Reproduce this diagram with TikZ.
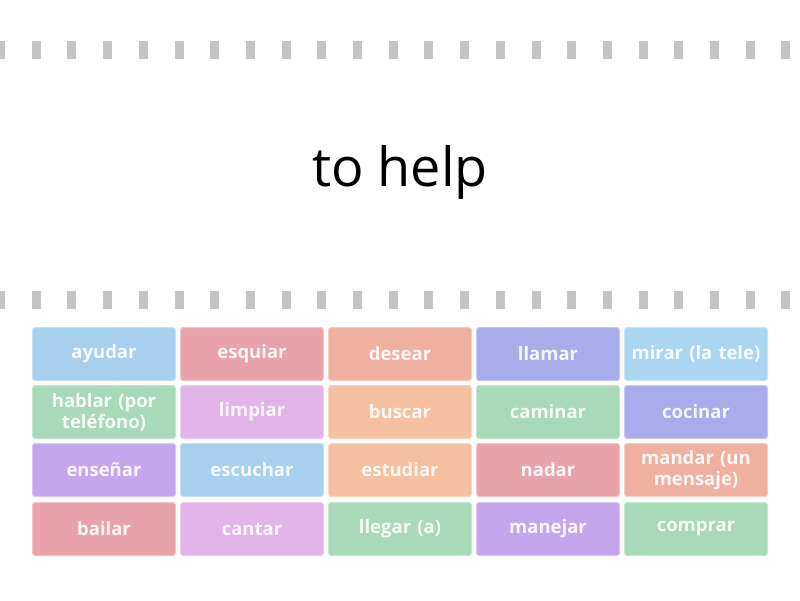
\documentclass[tikz,border=0pt]{standalone}
\usepackage{fontspec}
\setmainfont{Open Sans}
\definecolor{cblue}{HTML}{A6D0EE}
\definecolor{cred}{HTML}{E8A3AA}
\definecolor{csalmon}{HTML}{F0B0A0}
\definecolor{cperi}{HTML}{A8ACEA}
\definecolor{clblue}{HTML}{AAD6F2}
\definecolor{cgreen}{HTML}{A8DABA}
\definecolor{cpink}{HTML}{E2B4EA}
\definecolor{cpeach}{HTML}{F5C0A0}
\definecolor{cpurple}{HTML}{C3A6EC}
\definecolor{cdash}{HTML}{C4C4C4}
\begin{document}
\begin{tikzpicture}[x=1pt,y=-1pt,
  tile/.style={rounded corners=3pt,minimum width=144pt,minimum height=54pt,inner sep=0pt,
    draw=white,draw opacity=0.35,line width=2pt,
    text=white,text opacity=0.9,font=\bfseries\fontsize{18.5}{21}\selectfont,align=center,text width=144pt},
  dashbar/.style={fill=cdash}]
\useasboundingbox (0,0) rectangle (800,600);
\foreach \y in {50,300}{
  \foreach \i in {0,...,22}{
    \fill[dashbar] ({\i*35.7-4},\y-9) rectangle ({\i*35.7+5},\y+9);
  }
}
\node[font=\fontsize{54}{58}\selectfont] (title) at (400,172) {to help};
\def\tl#1#2#3#4#5{\node[tile,fill=#3] (#1) at ({104+148*#2},#4) {#5};}
\tl{a1}{0}{cblue}{354}{ayudar}
\tl{a2}{1}{cred}{354}{esquiar}
\tl{a3}{2}{csalmon}{354}{desear}
\tl{a4}{3}{cperi}{354}{llamar}
\tl{a5}{4}{clblue}{354}{mirar (la tele)}
\tl{b1}{0}{cgreen}{412}{hablar (por\\teléfono)}
\tl{b2}{1}{cpink}{412}{limpiar}
\tl{b3}{2}{cpeach}{412}{buscar}
\tl{b4}{3}{cgreen}{412}{caminar}
\tl{b5}{4}{cperi}{412}{cocinar}
\tl{c1}{0}{cpurple}{470}{enseñar}
\tl{c2}{1}{cblue}{470}{escuchar}
\tl{c3}{2}{cpeach}{470}{estudiar}
\tl{c4}{3}{cred}{470}{nadar}
\tl{c5}{4}{csalmon}{470}{mandar (un\\mensaje)}
\tl{d1}{0}{cred}{529}{bailar}
\tl{d2}{1}{cpink}{529}{cantar}
\tl{d3}{2}{cgreen}{529}{llegar (a)}
\tl{d4}{3}{cpurple}{529}{manejar}
\tl{d5}{4}{cgreen}{529}{comprar}
\end{tikzpicture}
\end{document}
